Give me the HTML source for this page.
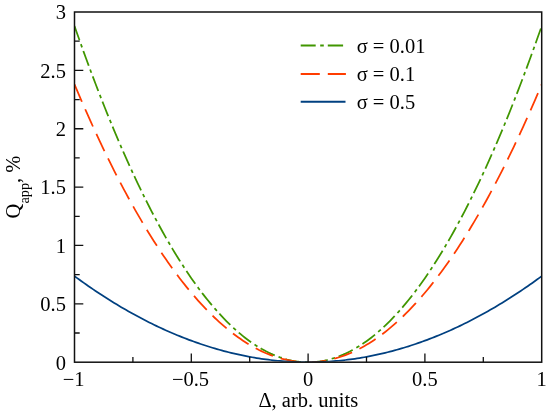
<!DOCTYPE html>
<html><head><meta charset="utf-8"><title>Q app plot</title>
<style>
html,body{margin:0;padding:0;background:#fff;}
svg{display:block}
text{font-family:"Liberation Serif","DejaVu Serif",serif;font-size:20.5px;fill:#000}
</style></head><body>
<svg width="550" height="414" viewBox="0 0 550 414">
<rect width="550" height="414" fill="#fff"/>
<defs><clipPath id="c"><rect x="74.5" y="12.0" width="467.20000000000005" height="349.8"/></clipPath></defs>
<g clip-path="url(#c)" fill="none" stroke-width="1.75">
<path d="M74.50,26.01 L76.84,32.70 L79.17,39.32 L81.51,45.88 L83.84,52.37 L86.18,58.79 L88.52,65.14 L90.85,71.43 L93.19,77.65 L95.52,83.80 L97.86,89.88 L100.20,95.90 L102.53,101.85 L104.87,107.74 L107.20,113.55 L109.54,119.30 L111.88,124.98 L114.21,130.60 L116.55,136.14 L118.88,141.62 L121.22,147.04 L123.56,152.38 L125.89,157.66 L128.23,162.87 L130.56,168.02 L132.90,173.09 L135.24,178.10 L137.57,183.04 L139.91,187.92 L142.24,192.73 L144.58,197.47 L146.92,202.14 L149.25,206.74 L151.59,211.28 L153.92,215.75 L156.26,220.16 L158.60,224.50 L160.93,228.77 L163.27,232.97 L165.60,237.10 L167.94,241.17 L170.28,245.17 L172.61,249.11 L174.95,252.97 L177.28,256.77 L179.62,260.50 L181.96,264.17 L184.29,267.76 L186.63,271.29 L188.96,274.76 L191.30,278.15 L193.64,281.48 L195.97,284.74 L198.31,287.94 L200.64,291.06 L202.98,294.12 L205.32,297.11 L207.65,300.04 L209.99,302.90 L212.32,305.69 L214.66,308.41 L217.00,311.07 L219.33,313.65 L221.67,316.18 L224.00,318.63 L226.34,321.02 L228.68,323.34 L231.01,325.59 L233.35,327.77 L235.68,329.89 L238.02,331.94 L240.36,333.93 L242.69,335.84 L245.03,337.69 L247.36,339.47 L249.70,341.19 L252.04,342.84 L254.37,344.42 L256.71,345.93 L259.04,347.37 L261.38,348.75 L263.72,350.06 L266.05,351.31 L268.39,352.48 L270.72,353.59 L273.06,354.64 L275.40,355.61 L277.73,356.52 L280.07,357.36 L282.40,358.13 L284.74,358.84 L287.08,359.48 L289.41,360.05 L291.75,360.55 L294.08,360.99 L296.42,361.36 L298.76,361.66 L301.09,361.90 L303.43,362.07 L305.76,362.17 L308.10,362.20 L310.44,362.17 L312.77,362.07 L315.11,361.90 L317.44,361.66 L319.78,361.36 L322.12,360.99 L324.45,360.55 L326.79,360.05 L329.12,359.48 L331.46,358.84 L333.80,358.13 L336.13,357.36 L338.47,356.52 L340.80,355.61 L343.14,354.64 L345.48,353.59 L347.81,352.48 L350.15,351.31 L352.48,350.06 L354.82,348.75 L357.16,347.37 L359.49,345.93 L361.83,344.42 L364.16,342.84 L366.50,341.19 L368.84,339.47 L371.17,337.69 L373.51,335.84 L375.84,333.93 L378.18,331.94 L380.52,329.89 L382.85,327.77 L385.19,325.59 L387.52,323.34 L389.86,321.02 L392.20,318.63 L394.53,316.18 L396.87,313.65 L399.20,311.07 L401.54,308.41 L403.88,305.69 L406.21,302.90 L408.55,300.04 L410.88,297.11 L413.22,294.12 L415.56,291.06 L417.89,287.94 L420.23,284.74 L422.56,281.48 L424.90,278.15 L427.24,274.76 L429.57,271.29 L431.91,267.76 L434.24,264.17 L436.58,260.50 L438.92,256.77 L441.25,252.97 L443.59,249.11 L445.92,245.17 L448.26,241.17 L450.60,237.10 L452.93,232.97 L455.27,228.77 L457.60,224.50 L459.94,220.16 L462.28,215.75 L464.61,211.28 L466.95,206.74 L469.28,202.14 L471.62,197.47 L473.96,192.73 L476.29,187.92 L478.63,183.04 L480.96,178.10 L483.30,173.09 L485.64,168.02 L487.97,162.87 L490.31,157.66 L492.64,152.38 L494.98,147.04 L497.32,141.62 L499.65,136.14 L501.99,130.60 L504.32,124.98 L506.66,119.30 L509.00,113.55 L511.33,107.74 L513.67,101.85 L516.00,95.90 L518.34,89.88 L520.68,83.80 L523.01,77.65 L525.35,71.43 L527.68,65.14 L530.02,58.79 L532.36,52.37 L534.69,45.88 L537.03,39.32 L539.36,32.70 L541.70,26.01" stroke="#409600" stroke-dasharray="15.7 4.1 3.5 3.75" stroke-dashoffset="0.6"/>
<path d="M74.50,84.37 L76.84,89.90 L79.17,95.38 L81.51,100.79 L83.84,106.16 L86.18,111.46 L88.52,116.71 L90.85,121.91 L93.19,127.05 L95.52,132.13 L97.86,137.16 L100.20,142.13 L102.53,147.05 L104.87,151.91 L107.20,156.72 L109.54,161.47 L111.88,166.17 L114.21,170.81 L116.55,175.39 L118.88,179.92 L121.22,184.39 L123.56,188.81 L125.89,193.17 L128.23,197.48 L130.56,201.73 L132.90,205.92 L135.24,210.06 L137.57,214.15 L139.91,218.18 L142.24,222.15 L144.58,226.07 L146.92,229.93 L149.25,233.73 L151.59,237.48 L153.92,241.18 L156.26,244.82 L158.60,248.40 L160.93,251.93 L163.27,255.40 L165.60,258.82 L167.94,262.18 L170.28,265.49 L172.61,268.74 L174.95,271.93 L177.28,275.07 L179.62,278.16 L181.96,281.19 L184.29,284.16 L186.63,287.08 L188.96,289.94 L191.30,292.74 L193.64,295.49 L195.97,298.19 L198.31,300.83 L200.64,303.41 L202.98,305.94 L205.32,308.41 L207.65,310.83 L209.99,313.19 L212.32,315.50 L214.66,317.75 L217.00,319.94 L219.33,322.08 L221.67,324.17 L224.00,326.19 L226.34,328.17 L228.68,330.08 L231.01,331.94 L233.35,333.75 L235.68,335.50 L238.02,337.20 L240.36,338.83 L242.69,340.42 L245.03,341.95 L247.36,343.42 L249.70,344.84 L252.04,346.20 L254.37,347.50 L256.71,348.75 L259.04,349.95 L261.38,351.09 L263.72,352.17 L266.05,353.20 L268.39,354.17 L270.72,355.09 L273.06,355.95 L275.40,356.75 L277.73,357.50 L280.07,358.20 L282.40,358.84 L284.74,359.42 L287.08,359.95 L289.41,360.42 L291.75,360.84 L294.08,361.20 L296.42,361.51 L298.76,361.76 L301.09,361.95 L303.43,362.09 L305.76,362.17 L308.10,362.20 L310.44,362.17 L312.77,362.09 L315.11,361.95 L317.44,361.76 L319.78,361.51 L322.12,361.20 L324.45,360.84 L326.79,360.42 L329.12,359.95 L331.46,359.42 L333.80,358.84 L336.13,358.20 L338.47,357.50 L340.80,356.75 L343.14,355.95 L345.48,355.09 L347.81,354.17 L350.15,353.20 L352.48,352.17 L354.82,351.09 L357.16,349.95 L359.49,348.75 L361.83,347.50 L364.16,346.20 L366.50,344.84 L368.84,343.42 L371.17,341.95 L373.51,340.42 L375.84,338.83 L378.18,337.20 L380.52,335.50 L382.85,333.75 L385.19,331.94 L387.52,330.08 L389.86,328.17 L392.20,326.19 L394.53,324.17 L396.87,322.08 L399.20,319.94 L401.54,317.75 L403.88,315.50 L406.21,313.19 L408.55,310.83 L410.88,308.41 L413.22,305.94 L415.56,303.41 L417.89,300.83 L420.23,298.19 L422.56,295.49 L424.90,292.74 L427.24,289.94 L429.57,287.08 L431.91,284.16 L434.24,281.19 L436.58,278.16 L438.92,275.07 L441.25,271.93 L443.59,268.74 L445.92,265.49 L448.26,262.18 L450.60,258.82 L452.93,255.40 L455.27,251.93 L457.60,248.40 L459.94,244.82 L462.28,241.18 L464.61,237.48 L466.95,233.73 L469.28,229.93 L471.62,226.07 L473.96,222.15 L476.29,218.18 L478.63,214.15 L480.96,210.06 L483.30,205.92 L485.64,201.73 L487.97,197.48 L490.31,193.17 L492.64,188.81 L494.98,184.39 L497.32,179.92 L499.65,175.39 L501.99,170.81 L504.32,166.17 L506.66,161.47 L509.00,156.72 L511.33,151.91 L513.67,147.05 L516.00,142.13 L518.34,137.16 L520.68,132.13 L523.01,127.05 L525.35,121.91 L527.68,116.71 L530.02,111.46 L532.36,106.16 L534.69,100.79 L537.03,95.38 L539.36,89.90 L541.70,84.37" stroke="#ff3c00" stroke-dasharray="18.9 8.2" stroke-dashoffset="0"/>
<path d="M74.50,276.17 L76.84,277.88 L79.17,279.57 L81.51,281.25 L83.84,282.91 L86.18,284.56 L88.52,286.18 L90.85,287.79 L93.19,289.38 L95.52,290.96 L97.86,292.51 L100.20,294.05 L102.53,295.58 L104.87,297.08 L107.20,298.57 L109.54,300.04 L111.88,301.50 L114.21,302.93 L116.55,304.35 L118.88,305.75 L121.22,307.14 L123.56,308.51 L125.89,309.86 L128.23,311.19 L130.56,312.51 L132.90,313.81 L135.24,315.09 L137.57,316.35 L139.91,317.60 L142.24,318.83 L144.58,320.04 L146.92,321.24 L149.25,322.42 L151.59,323.58 L153.92,324.72 L156.26,325.85 L158.60,326.96 L160.93,328.05 L163.27,329.13 L165.60,330.19 L167.94,331.23 L170.28,332.25 L172.61,333.26 L174.95,334.25 L177.28,335.22 L179.62,336.18 L181.96,337.11 L184.29,338.03 L186.63,338.94 L188.96,339.82 L191.30,340.69 L193.64,341.54 L195.97,342.38 L198.31,343.20 L200.64,344.00 L202.98,344.78 L205.32,345.54 L207.65,346.29 L209.99,347.02 L212.32,347.74 L214.66,348.43 L217.00,349.11 L219.33,349.78 L221.67,350.42 L224.00,351.05 L226.34,351.66 L228.68,352.25 L231.01,352.83 L233.35,353.39 L235.68,353.93 L238.02,354.46 L240.36,354.96 L242.69,355.46 L245.03,355.93 L247.36,356.38 L249.70,356.82 L252.04,357.24 L254.37,357.65 L256.71,358.04 L259.04,358.41 L261.38,358.76 L263.72,359.09 L266.05,359.41 L268.39,359.71 L270.72,360.00 L273.06,360.26 L275.40,360.51 L277.73,360.75 L280.07,360.96 L282.40,361.16 L284.74,361.34 L287.08,361.50 L289.41,361.65 L291.75,361.78 L294.08,361.89 L296.42,361.98 L298.76,362.06 L301.09,362.12 L303.43,362.17 L305.76,362.19 L308.10,362.20 L310.44,362.19 L312.77,362.17 L315.11,362.12 L317.44,362.06 L319.78,361.98 L322.12,361.89 L324.45,361.78 L326.79,361.65 L329.12,361.50 L331.46,361.34 L333.80,361.16 L336.13,360.96 L338.47,360.75 L340.80,360.51 L343.14,360.26 L345.48,360.00 L347.81,359.71 L350.15,359.41 L352.48,359.09 L354.82,358.76 L357.16,358.41 L359.49,358.04 L361.83,357.65 L364.16,357.24 L366.50,356.82 L368.84,356.38 L371.17,355.93 L373.51,355.46 L375.84,354.96 L378.18,354.46 L380.52,353.93 L382.85,353.39 L385.19,352.83 L387.52,352.25 L389.86,351.66 L392.20,351.05 L394.53,350.42 L396.87,349.78 L399.20,349.11 L401.54,348.43 L403.88,347.74 L406.21,347.02 L408.55,346.29 L410.88,345.54 L413.22,344.78 L415.56,344.00 L417.89,343.20 L420.23,342.38 L422.56,341.54 L424.90,340.69 L427.24,339.82 L429.57,338.94 L431.91,338.03 L434.24,337.11 L436.58,336.18 L438.92,335.22 L441.25,334.25 L443.59,333.26 L445.92,332.25 L448.26,331.23 L450.60,330.19 L452.93,329.13 L455.27,328.05 L457.60,326.96 L459.94,325.85 L462.28,324.72 L464.61,323.58 L466.95,322.42 L469.28,321.24 L471.62,320.04 L473.96,318.83 L476.29,317.60 L478.63,316.35 L480.96,315.09 L483.30,313.81 L485.64,312.51 L487.97,311.19 L490.31,309.86 L492.64,308.51 L494.98,307.14 L497.32,305.75 L499.65,304.35 L501.99,302.93 L504.32,301.50 L506.66,300.04 L509.00,298.57 L511.33,297.08 L513.67,295.58 L516.00,294.05 L518.34,292.51 L520.68,290.96 L523.01,289.38 L525.35,287.79 L527.68,286.18 L530.02,284.56 L532.36,282.91 L534.69,281.25 L537.03,279.57 L539.36,277.88 L541.70,276.17" stroke="#004080"/>
</g>

<path d="M132.90,362.2 V357.0 M191.30,362.2 V353.4 M249.70,362.2 V357.0 M308.10,362.2 V353.4 M366.50,362.2 V357.0 M424.90,362.2 V353.4 M483.30,362.2 V357.0 M74.5,333.02 H79.7 M74.5,303.83 H83.3 M74.5,274.65 H79.7 M74.5,245.47 H83.3 M74.5,216.28 H79.7 M74.5,187.10 H83.3 M74.5,157.92 H79.7 M74.5,128.73 H83.3 M74.5,99.55 H79.7 M74.5,70.37 H83.3 M74.5,41.18 H79.7" stroke="#111" stroke-width="1.3" fill="none"/>
<rect x="74.5" y="12.0" width="467.20000000000005" height="350.2" fill="none" stroke="#111" stroke-width="1.5"/>
<text x="65.9" y="369.50" text-anchor="end">0</text>
<text x="65.9" y="311.13" text-anchor="end">0.5</text>
<text x="65.9" y="252.77" text-anchor="end">1</text>
<text x="65.9" y="194.40" text-anchor="end">1.5</text>
<text x="65.9" y="136.03" text-anchor="end">2</text>
<text x="65.9" y="77.67" text-anchor="end">2.5</text>
<text x="65.9" y="19.30" text-anchor="end">3</text>
<text x="73.70" y="386.4" text-anchor="middle">−1</text>
<text x="190.50" y="386.4" text-anchor="middle">−0.5</text>
<text x="308.10" y="386.4" text-anchor="middle">0</text>
<text x="424.90" y="386.4" text-anchor="middle">0.5</text>
<text x="541.70" y="386.4" text-anchor="middle">1</text>
<text x="308.3" y="407.3" text-anchor="middle">Δ, arb. units</text>
<text transform="translate(20.3,187) rotate(-90)" text-anchor="middle">Q<tspan dy="8.4" font-size="14.3px">app</tspan><tspan dy="-8.4">, %</tspan></text>
<g fill="none" stroke-width="1.95">
<path d="M300.7,45.3 H315.7 M320.2,45.3 H323.8 M327.8,45.3 H343.1" stroke="#409600" transform="translate(0,0.25)"/>
<path d="M300.7,73.9 H319.8 M327.8,73.9 H345.9" stroke="#ff3c00"/>
<path d="M300.7,101.8 H345.5" stroke="#004080"/>
</g>
<text x="356.7" y="52.9">σ = 0.01</text>
<text x="356.7" y="81.4">σ = 0.1</text>
<text x="356.7" y="109.4">σ = 0.5</text>
</svg></body></html>
